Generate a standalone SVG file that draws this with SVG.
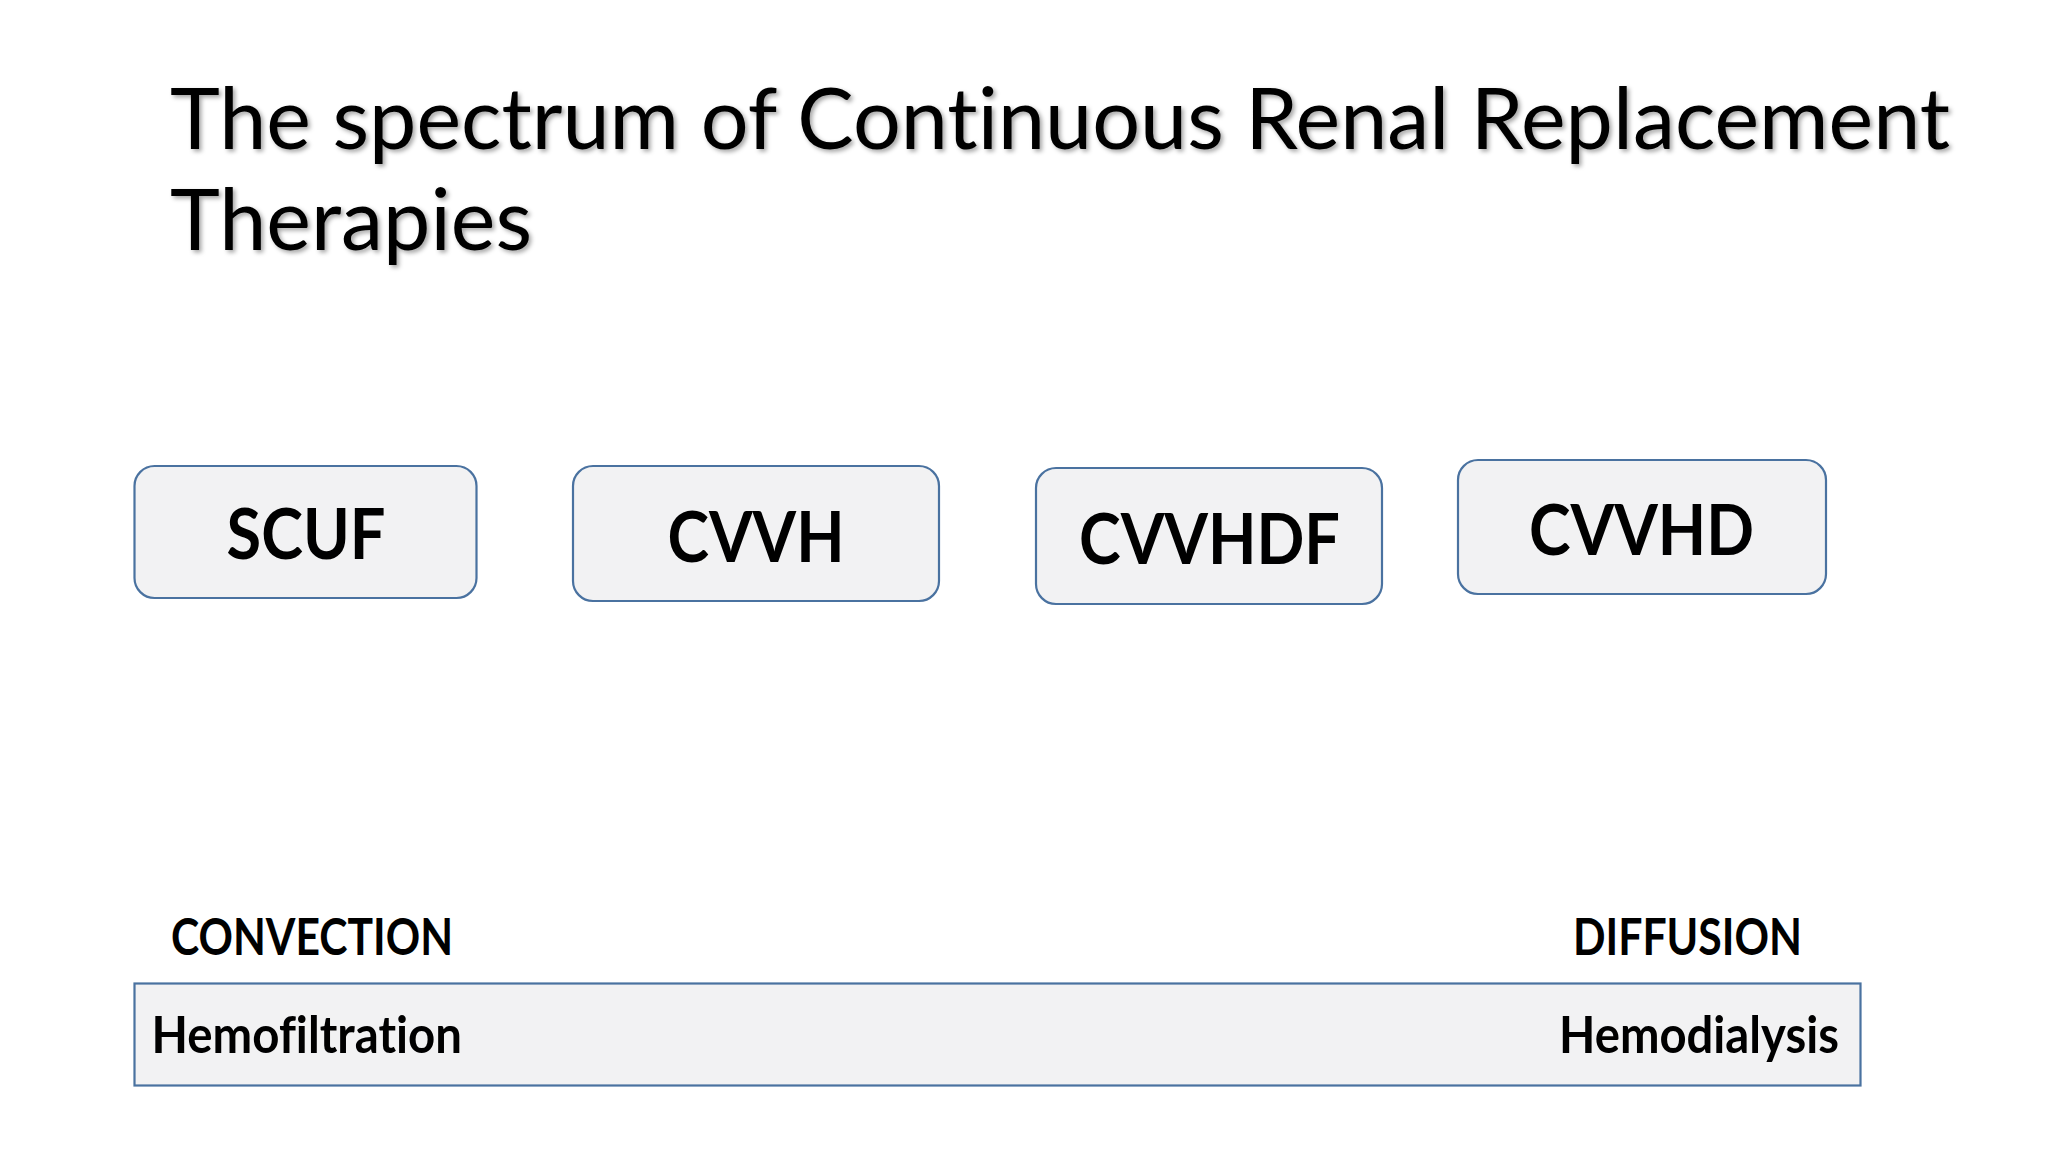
<svg xmlns="http://www.w3.org/2000/svg" width="2048" height="1152" viewBox="0 0 2048 1152">
<defs>
<style>
text{font-variant-ligatures:none;font-feature-settings:"liga" 0,"clig" 0;}
.title{font-family:Lato,"Open Sans","Liberation Sans",sans-serif;font-size:86px;fill:#000;}
.node rect{fill:#f2f2f3;stroke:#4a72a0;stroke-width:2.2;}
.node text{font-family:Lato,"Open Sans","Liberation Sans",sans-serif;font-weight:bold;font-size:71px;fill:#000;text-anchor:middle;}
.lbl{font-family:Lato,"Open Sans","Liberation Sans",sans-serif;font-weight:bold;font-size:51px;fill:#000;}
</style>
<filter id="sh" x="-5%" y="-20%" width="110%" height="140%">
<feDropShadow dx="2.5" dy="2.5" stdDeviation="2" flood-color="#000" flood-opacity="0.35"/>
</filter>
</defs>
<rect width="2048" height="1152" fill="#ffffff"/>
<g id="title" filter="url(#sh)">
<text class="title" x="170" y="149" textLength="1780" lengthAdjust="spacingAndGlyphs">The spectrum of Continuous Renal Replacement</text>
<text class="title" x="170" y="250" textLength="362" lengthAdjust="spacingAndGlyphs">Therapies</text>
</g>
<g id="connectors"></g>
<g id="node-scuf" class="node">
<rect x="134.5" y="466" width="342" height="132" rx="20"/>
<text x="306" y="559" textLength="159" lengthAdjust="spacingAndGlyphs">SCUF</text>
</g>
<g id="node-cvvh" class="node">
<rect x="573" y="466" width="366" height="135" rx="20"/>
<text x="756" y="562" textLength="177" lengthAdjust="spacingAndGlyphs">CVVH</text>
</g>
<g id="node-cvvhdf" class="node">
<rect x="1036" y="468" width="346" height="136" rx="20"/>
<text x="1209.5" y="564" textLength="261" lengthAdjust="spacingAndGlyphs">CVVHDF</text>
</g>
<g id="node-cvvhd" class="node">
<rect x="1458" y="460" width="368" height="134" rx="20"/>
<text x="1641.5" y="555" textLength="225" lengthAdjust="spacingAndGlyphs">CVVHD</text>
</g>
<g id="label-convection">
<text class="lbl" x="171" y="955" textLength="282" lengthAdjust="spacingAndGlyphs">CONVECTION</text>
</g>
<g id="label-diffusion">
<text class="lbl" x="1573" y="955" textLength="229" lengthAdjust="spacingAndGlyphs">DIFFUSION</text>
</g>
<g id="node-spectrum-bar" class="node">
<rect x="134.5" y="983.5" width="1726" height="102" rx="0"/>
<text class="lbl" style="text-anchor:start;font-size:51px" x="151.5" y="1053" textLength="310.5" lengthAdjust="spacingAndGlyphs">Hemofiltration</text>
<text class="lbl" style="text-anchor:start;font-size:51px" x="1559" y="1053" textLength="280" lengthAdjust="spacingAndGlyphs">Hemodialysis</text>
</g>
</svg>
